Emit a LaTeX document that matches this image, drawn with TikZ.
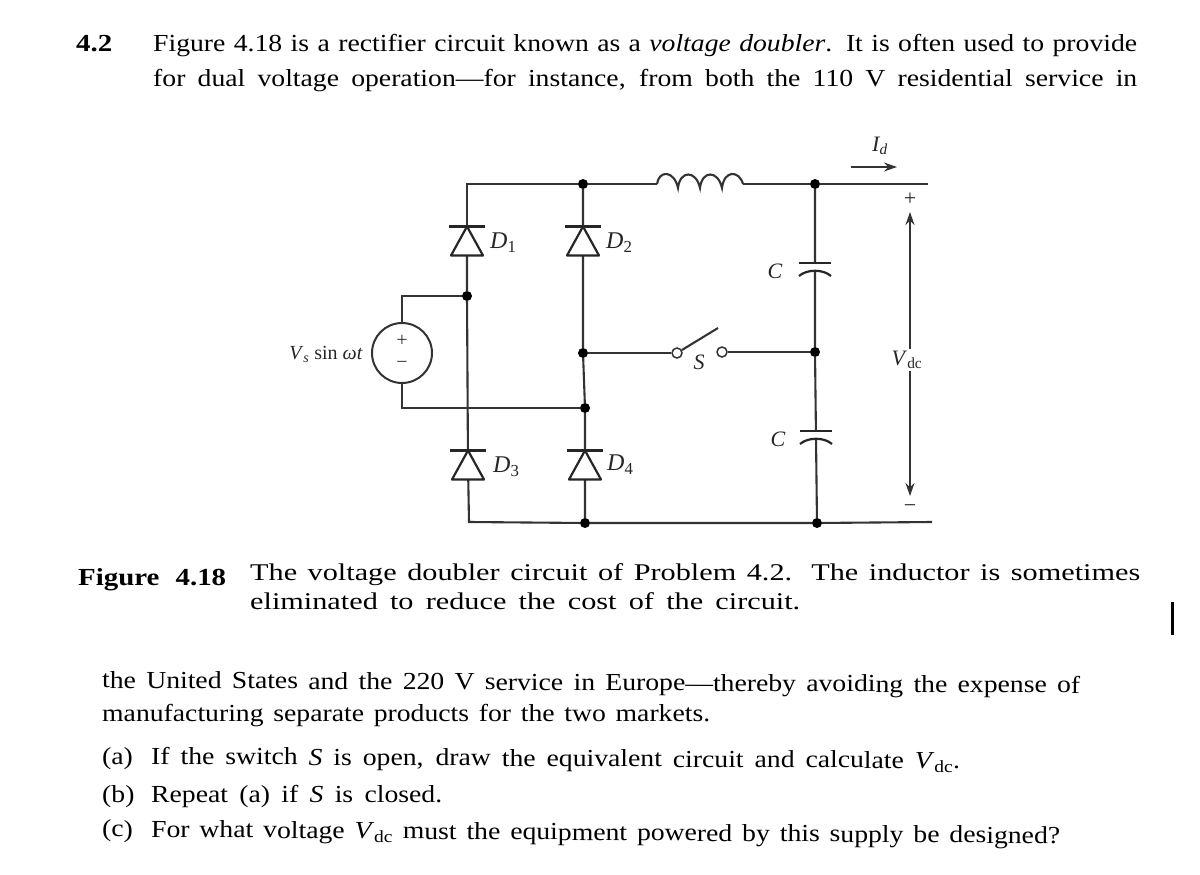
\documentclass[tikz,border=0pt]{standalone}
\usepackage{fontspec}
\setmainfont[FakeStretch=1.13]{Liberation Serif}
\newfontfamily\capfont[FakeStretch=1.26]{Liberation Serif}
\newfontfamily\headfont[FakeStretch=1.18]{Liberation Serif}
\newfontfamily\labfont{Liberation Serif}
\newcommand{\ital}[1]{\textit{#1}}
\newcommand{\fit}[2]{\makebox[#1pt][s]{#2}}
\newcommand{\itemlab}[1]{\makebox[49pt][l]{#1}}
\newcommand{\sbs}[1]{\textsubscript{\upshape #1}}
\usetikzlibrary{arrows.meta}
\tikzset{
 x=1pt,y=-1pt,
 wire/.style={line width=2.1pt,black!80},
 dot/.style={circle,fill=black,inner sep=0pt,minimum size=10pt},
 term/.style={circle,draw=black!80,line width=1.5pt,fill=white,inner sep=0pt,minimum size=10pt},
 txt/.style={anchor=west,inner sep=0pt,font=\fontsize{24.5}{26}\selectfont,text=black},
 captxt/.style={txt,font=\fontsize{24}{26}\capfont},
 headtxt/.style={anchor=west,inner sep=0pt,font=\fontsize{24.5}{26}\headfont\bfseries,text=black},
 lab/.style={inner sep=0pt,font=\fontsize{22}{24}\labfont\itshape,text=black!85},
 dlab/.style={lab,anchor=west,font=\fontsize{24}{26}\labfont\itshape},
 uplab/.style={lab,font=\fontsize{22}{24}\labfont},
 src/.style={circle,draw=black!80,line width=2pt,fill=white,inner sep=0pt,minimum size=60pt},
 voltarrow/.style={line width=1.6pt,black!80,-{Stealth[length=13pt,width=9pt]}},
 pics/diode/.style={code={
   \draw[line width=2.2pt,black!85] (-18,-14.5)--(18,-14.5);
   \draw[line width=2.2pt,black!85,line join=round,fill=white] (0,-14.5)--(-16,14.5)--(16,14.5)--cycle;
 }},
 pics/capac/.style={code={
   \draw[line width=2.2pt,black!85] (-16,-5)--(16,-5);
   \draw[line width=2.2pt,black!85] (-16,8) .. controls (-8,1) and (8,1) .. (16,8);
 }},
}
\begin{document}
\begin{tikzpicture}
\useasboundingbox[fill=white] (0,0) rectangle (1200,875);
% text
\node[headtxt] (n42) at (76,44) {4.2};
\node[txt] (l1) at (153,46) {\fit{984}{Figure 4.18 is a rectifier circuit known as a \ital{voltage doubler}. It is often used to provide}};
\node[txt] (l2) at (153,81) {\fit{984}{for dual voltage operation---for instance, from both the 110 V residential service in}};
\node[headtxt] (figl) at (78,580) {\fit{148}{Figure 4.18}};
\node[captxt] (c1) at (250,575) {\fit{890}{The voltage doubler circuit of Problem 4.2. The inductor is sometimes}};
\node[captxt] (c2) at (250,601) {\fit{550}{eliminated to reduce the cost of the circuit.}};
\node[txt,rotate=-0.3] (p1) at (102,682) {\fit{978}{the United States and the 220 V service in Europe---thereby avoiding the expense of}};
\node[txt] (p2) at (102,716) {\fit{608}{manufacturing separate products for the two markets.}};
\node[txt,rotate=-0.3] (a) at (102,758) {\itemlab{(a)}\fit{809}{If the switch \ital{S} is open, draw the equivalent circuit and calculate \ital{V}\sbs{dc}.}};
\node[txt] (b) at (102,796) {\itemlab{(b)}\fit{291}{Repeat (a) if \ital{S} is closed.}};
\node[txt,rotate=-0.4] (c) at (102,831) {\itemlab{(c)}\fit{909}{For what voltage \ital{V}\sbs{dc} must the equipment powered by this supply be designed?}};
% points
\coordinate (tl) at (467,184);
\node[dot] (t2) at (583,184) {};
\node[dot] (tr) at (815,184) {};
\coordinate (tend) at (928,184);
\coordinate (ls) at (657,184);
\coordinate (le) at (743,184);
\node[dot] (n1) at (467,296) {};
\node[dot] (m2) at (583,353) {};
\node[dot] (n2) at (585,408) {};
\node[dot] (mr) at (815,352) {};
\coordinate (bl) at (469,522);
\node[dot] (b2) at (585,523) {};
\node[dot] (br) at (817,523) {};
\coordinate (bend) at (932,522);
\coordinate (d1) at (467,241);
\coordinate (d2) at (583,241);
\coordinate (d3) at (468,465);
\coordinate (d4) at (585,465);
\coordinate (c1p) at (815,268);
\coordinate (c2p) at (816,436);
\node[src] (vs) at (402,353) {};
\node[font=\fontsize{20}{20}\labfont,inner sep=0pt,text=black!80] (vsp) at (402,341) {+};
\node[font=\fontsize{20}{20}\labfont,inner sep=0pt,text=black!80] (vsm) at (402,365) {−};
\node[term] (s1) at (677,353) {};
\node[term] (s2) at (722,352) {};
\coordinate (blade) at (718,328);
% wires
\draw[wire] (d1) -- (tl) -- (t2) -- (ls);
\draw[wire] (le) -- (tr) -- (tend);
\draw[wire] (t2) -- (d2) -- (m2) -- (n2) -- (d4) -- (b2);
\draw[wire] (d1) -- (n1) -- (d3) -- (bl) -- (b2) -- (br) -- (bend);
\draw[wire] (vs.north) |- (n1);
\draw[wire] (vs.south) |- (n2);
\draw[wire] (m2) -- (s1);
\draw[wire] (s2) -- (mr);
\draw[wire] (tr) -- (mr) -- (br);
\draw[wire] (s1) -- (blade);
% inductor
\draw[wire,fill=none] (ls) .. controls (659,170) and (674,170) .. (678,188)
  .. controls (680,170) and (696,170) .. (700,188)
  .. controls (702,170) and (718,170) .. (722,188)
  .. controls (724,170) and (739,170) .. (743,184);
% devices
\pic at (d1) {diode}; \pic at (d2) {diode}; \pic at (d3) {diode}; \pic at (d4) {diode};
\fill[white] (799,264) rectangle (831,272);
\fill[white] (799,432) rectangle (831,440);
\pic at (c1p) {capac}; \pic at (c2p) {capac};
% labels
\node[dlab] (ld1) at (490,243) {D\sbs{1}};
\node[dlab] (ld2) at (606,243) {D\sbs{2}};
\node[dlab] (ld3) at (493,467) {D\sbs{3}};
\node[dlab] (ld4) at (607,465) {D\sbs{4}};
\node[lab,anchor=east,font=\fontsize{20}{22}\labfont] (lvs) at (363,354) {\ital{V}\textsubscript{\ital{s}} sin \ital{ωt}};
\node[lab] (lc1) at (775,271) {C};
\node[lab] (lc2) at (778,439) {C};
\node[lab] (ls1) at (699,362) {S};
\node[lab] (lid) at (880,146) {I\textsubscript{d}};
\coordinate (ia) at (851,167); \coordinate (ib) at (897,167);
\draw[voltarrow] (ia) -- (ib);
\node[uplab] (vp) at (910,199) {+};
\node[uplab] (vm) at (910,509) {−};
\node[uplab] (vdc) at (907,360) {\ital{V}\sbs{dc}};
\draw[voltarrow] (vdc.north -| vp) ++(0,-2) -- (vp |- 0,212);
\draw[voltarrow] (vdc.south -| vp) ++(0,2) -- (vp |- 0,496);
% scan mark
\fill[black] (1171,602) rectangle (1174,635);
\end{tikzpicture}
\end{document}
